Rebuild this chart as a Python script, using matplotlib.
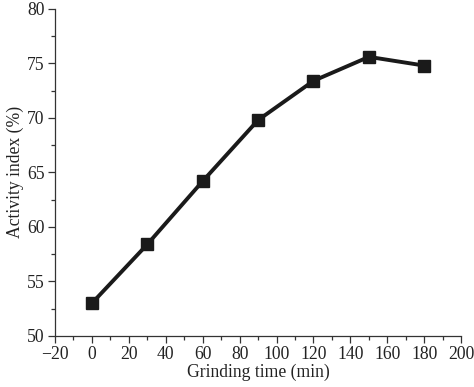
import matplotlib
matplotlib.use("Agg")
import matplotlib.pyplot as plt
from matplotlib.ticker import MultipleLocator

# data
grinding_time = [0, 30, 60, 90, 120, 150, 180]
activity_index = [53.0, 58.4, 64.2, 69.8, 73.4, 75.6, 74.8]

plt.rcParams['font.family'] = ['Liberation Serif', 'DejaVu Serif']

fig = plt.figure(figsize=(4.74, 3.87), dpi=100)
ax = fig.add_axes([0.116, 0.132, 0.857, 0.845])

ax.plot(grinding_time, activity_index, '-s', color='#1a1a1a', linewidth=2.8,
        markersize=9, markerfacecolor='#1a1a1a', markeredgecolor='#1a1a1a')

ax.set_xlim(-20, 200)
ax.set_ylim(50, 80)
ax.xaxis.set_major_locator(MultipleLocator(20))
ax.xaxis.set_minor_locator(MultipleLocator(10))
ax.yaxis.set_major_locator(MultipleLocator(5))
ax.yaxis.set_minor_locator(MultipleLocator(2.5))

for side in ['top', 'right']:
    ax.spines[side].set_visible(False)
for side in ['left', 'bottom']:
    ax.spines[side].set_color('#333333')
    ax.spines[side].set_linewidth(0.9)

ax.tick_params(which='major', direction='out', length=5, width=0.9,
               colors='#333333', labelsize=12.7, labelcolor='#222222', pad=2.5)
ax.tick_params(which='minor', direction='out', length=2.8, width=0.9, colors='#333333')
ax.xaxis.set_major_formatter(plt.FuncFormatter(lambda v, p: f'{int(v)}'.replace('-', '\u2212')))

ax.set_xlabel('Grinding time (min)', fontsize=12.7, color='#222222', labelpad=0)
ax.set_ylabel('Activity index (%)', fontsize=12.7, color='#222222', labelpad=2)

fig.savefig('out.png', dpi=100)
